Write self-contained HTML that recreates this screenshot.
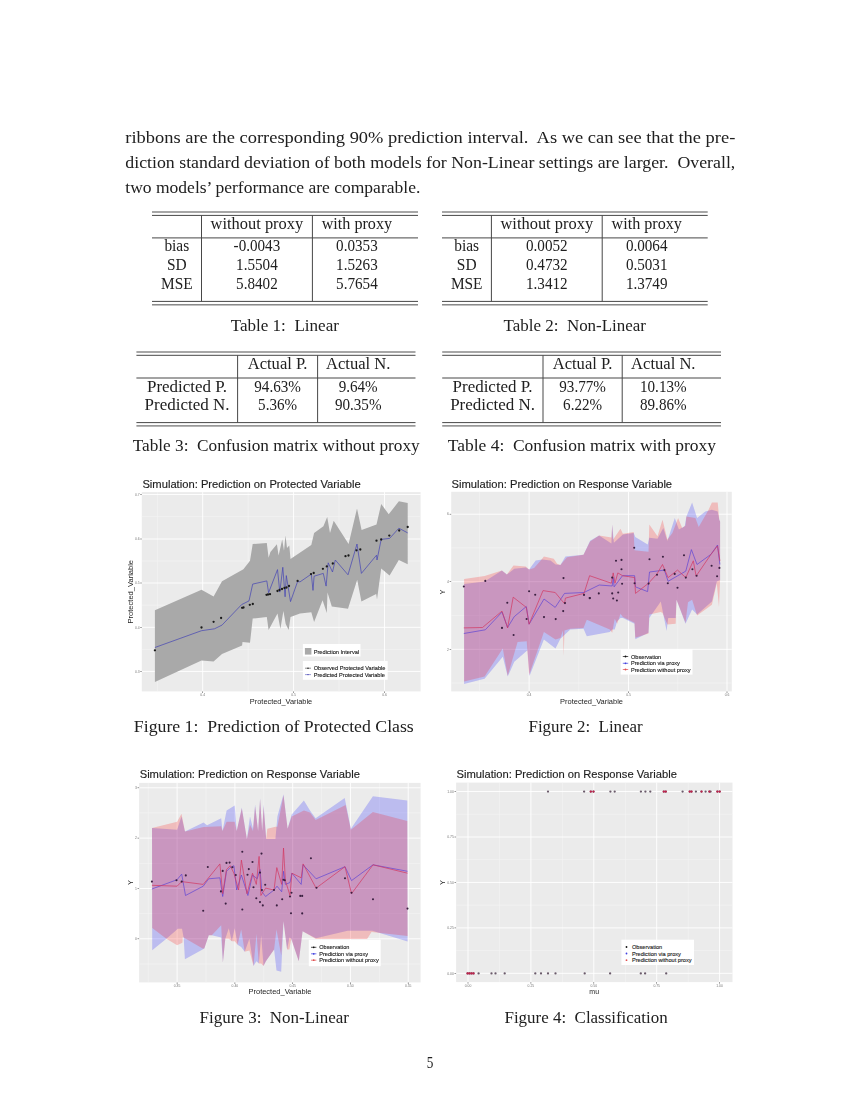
<!DOCTYPE html>
<html><head><meta charset="utf-8"><title>page 5</title>
<style>
html,body{margin:0;padding:0;background:#fff;}
body{width:850px;height:1100px;overflow:hidden;position:relative;}
svg{position:absolute;left:0;top:0;filter:blur(0.3px);}
text{white-space:pre;}
</style></head><body>
<svg width="850" height="1100" viewBox="0 0 850 1100">
<text x="125.3" y="143.2" font-size="16" text-anchor="start" fill="#202020" font-family='"Liberation Serif", serif' textLength="610.0" lengthAdjust="spacingAndGlyphs" >ribbons are the corresponding 90% prediction interval.  As we can see that the pre-</text>
<text x="125.3" y="168.0" font-size="16" text-anchor="start" fill="#202020" font-family='"Liberation Serif", serif' textLength="610.0" lengthAdjust="spacingAndGlyphs" >diction standard deviation of both models for Non-Linear settings are larger.  Overall,</text>
<text x="125.3" y="193.2" font-size="16" text-anchor="start" fill="#202020" font-family='"Liberation Serif", serif' textLength="295.0" lengthAdjust="spacingAndGlyphs" >two models’ performance are comparable.</text>
<rect x="152.0" y="211.35" width="266.0" height="1.3" fill="#777777"/>
<rect x="152.0" y="214.90" width="266.0" height="1.0" fill="#484848"/>
<rect x="152.0" y="237.40" width="266.0" height="1.0" fill="#484848"/>
<rect x="152.0" y="300.90" width="266.0" height="1.0" fill="#484848"/>
<rect x="152.0" y="304.15" width="266.0" height="1.3" fill="#777777"/>
<rect x="201.00" y="215.4" width="1.0" height="86.0" fill="#484848"/>
<rect x="311.90" y="215.4" width="1.0" height="86.0" fill="#484848"/>
<text x="256.9" y="228.5" font-size="16" text-anchor="middle" fill="#202020" font-family='"Liberation Serif", serif' textLength="92.6" lengthAdjust="spacingAndGlyphs" >without proxy</text>
<text x="356.9" y="228.5" font-size="16" text-anchor="middle" fill="#202020" font-family='"Liberation Serif", serif' textLength="70.4" lengthAdjust="spacingAndGlyphs" >with proxy</text>
<text x="176.8" y="251.0" font-size="16" text-anchor="middle" fill="#202020" font-family='"Liberation Serif", serif' textLength="24.8" lengthAdjust="spacingAndGlyphs" >bias</text>
<text x="256.9" y="251.0" font-size="16" text-anchor="middle" fill="#202020" font-family='"Liberation Serif", serif' textLength="46.6" lengthAdjust="spacingAndGlyphs" >-0.0043</text>
<text x="356.9" y="251.0" font-size="16" text-anchor="middle" fill="#202020" font-family='"Liberation Serif", serif' textLength="41.6" lengthAdjust="spacingAndGlyphs" >0.0353</text>
<text x="176.8" y="270.0" font-size="16" text-anchor="middle" fill="#202020" font-family='"Liberation Serif", serif' textLength="19.7" lengthAdjust="spacingAndGlyphs" >SD</text>
<text x="256.9" y="270.0" font-size="16" text-anchor="middle" fill="#202020" font-family='"Liberation Serif", serif' textLength="41.6" lengthAdjust="spacingAndGlyphs" >1.5504</text>
<text x="356.9" y="270.0" font-size="16" text-anchor="middle" fill="#202020" font-family='"Liberation Serif", serif' textLength="41.6" lengthAdjust="spacingAndGlyphs" >1.5263</text>
<text x="176.8" y="288.9" font-size="16" text-anchor="middle" fill="#202020" font-family='"Liberation Serif", serif' textLength="31.6" lengthAdjust="spacingAndGlyphs" >MSE</text>
<text x="256.9" y="288.9" font-size="16" text-anchor="middle" fill="#202020" font-family='"Liberation Serif", serif' textLength="41.6" lengthAdjust="spacingAndGlyphs" >5.8402</text>
<text x="356.9" y="288.9" font-size="16" text-anchor="middle" fill="#202020" font-family='"Liberation Serif", serif' textLength="41.6" lengthAdjust="spacingAndGlyphs" >5.7654</text>
<rect x="442.0" y="211.35" width="265.7" height="1.3" fill="#777777"/>
<rect x="442.0" y="214.90" width="265.7" height="1.0" fill="#484848"/>
<rect x="442.0" y="237.40" width="265.7" height="1.0" fill="#484848"/>
<rect x="442.0" y="300.90" width="265.7" height="1.0" fill="#484848"/>
<rect x="442.0" y="304.15" width="265.7" height="1.3" fill="#777777"/>
<rect x="490.90" y="215.4" width="1.0" height="86.0" fill="#484848"/>
<rect x="601.70" y="215.4" width="1.0" height="86.0" fill="#484848"/>
<text x="546.8" y="228.5" font-size="16" text-anchor="middle" fill="#202020" font-family='"Liberation Serif", serif' textLength="92.6" lengthAdjust="spacingAndGlyphs" >without proxy</text>
<text x="646.7" y="228.5" font-size="16" text-anchor="middle" fill="#202020" font-family='"Liberation Serif", serif' textLength="70.4" lengthAdjust="spacingAndGlyphs" >with proxy</text>
<text x="466.7" y="251.0" font-size="16" text-anchor="middle" fill="#202020" font-family='"Liberation Serif", serif' textLength="24.8" lengthAdjust="spacingAndGlyphs" >bias</text>
<text x="546.8" y="251.0" font-size="16" text-anchor="middle" fill="#202020" font-family='"Liberation Serif", serif' textLength="41.6" lengthAdjust="spacingAndGlyphs" >0.0052</text>
<text x="646.7" y="251.0" font-size="16" text-anchor="middle" fill="#202020" font-family='"Liberation Serif", serif' textLength="41.6" lengthAdjust="spacingAndGlyphs" >0.0064</text>
<text x="466.7" y="270.0" font-size="16" text-anchor="middle" fill="#202020" font-family='"Liberation Serif", serif' textLength="19.7" lengthAdjust="spacingAndGlyphs" >SD</text>
<text x="546.8" y="270.0" font-size="16" text-anchor="middle" fill="#202020" font-family='"Liberation Serif", serif' textLength="41.6" lengthAdjust="spacingAndGlyphs" >0.4732</text>
<text x="646.7" y="270.0" font-size="16" text-anchor="middle" fill="#202020" font-family='"Liberation Serif", serif' textLength="41.6" lengthAdjust="spacingAndGlyphs" >0.5031</text>
<text x="466.7" y="288.9" font-size="16" text-anchor="middle" fill="#202020" font-family='"Liberation Serif", serif' textLength="31.6" lengthAdjust="spacingAndGlyphs" >MSE</text>
<text x="546.8" y="288.9" font-size="16" text-anchor="middle" fill="#202020" font-family='"Liberation Serif", serif' textLength="41.6" lengthAdjust="spacingAndGlyphs" >1.3412</text>
<text x="646.7" y="288.9" font-size="16" text-anchor="middle" fill="#202020" font-family='"Liberation Serif", serif' textLength="41.6" lengthAdjust="spacingAndGlyphs" >1.3749</text>
<text x="284.8" y="330.6" font-size="16" text-anchor="middle" fill="#202020" font-family='"Liberation Serif", serif' textLength="108.2" lengthAdjust="spacingAndGlyphs" >Table 1:  Linear</text>
<text x="574.8" y="330.6" font-size="16" text-anchor="middle" fill="#202020" font-family='"Liberation Serif", serif' textLength="142.4" lengthAdjust="spacingAndGlyphs" >Table 2:  Non-Linear</text>
<rect x="136.4" y="351.35" width="279.1" height="1.3" fill="#777777"/>
<rect x="136.4" y="354.80" width="279.1" height="1.0" fill="#484848"/>
<rect x="136.4" y="377.50" width="279.1" height="1.0" fill="#484848"/>
<rect x="136.4" y="422.10" width="279.1" height="1.0" fill="#484848"/>
<rect x="136.4" y="425.25" width="279.1" height="1.3" fill="#777777"/>
<rect x="237.10" y="355.3" width="1.0" height="67.3" fill="#484848"/>
<rect x="317.10" y="355.3" width="1.0" height="67.3" fill="#484848"/>
<text x="277.6" y="369.0" font-size="16" text-anchor="middle" fill="#202020" font-family='"Liberation Serif", serif' textLength="59.8" lengthAdjust="spacingAndGlyphs" >Actual P.</text>
<text x="358.2" y="369.0" font-size="16" text-anchor="middle" fill="#202020" font-family='"Liberation Serif", serif' textLength="64.4" lengthAdjust="spacingAndGlyphs" >Actual N.</text>
<text x="187.0" y="391.6" font-size="16" text-anchor="middle" fill="#202020" font-family='"Liberation Serif", serif' textLength="80.0" lengthAdjust="spacingAndGlyphs" >Predicted P.</text>
<text x="277.6" y="391.6" font-size="16" text-anchor="middle" fill="#202020" font-family='"Liberation Serif", serif' textLength="46.6" lengthAdjust="spacingAndGlyphs" >94.63%</text>
<text x="358.2" y="391.6" font-size="16" text-anchor="middle" fill="#202020" font-family='"Liberation Serif", serif' textLength="39.0" lengthAdjust="spacingAndGlyphs" >9.64%</text>
<text x="187.0" y="410.0" font-size="16" text-anchor="middle" fill="#202020" font-family='"Liberation Serif", serif' textLength="84.8" lengthAdjust="spacingAndGlyphs" >Predicted N.</text>
<text x="277.6" y="410.0" font-size="16" text-anchor="middle" fill="#202020" font-family='"Liberation Serif", serif' textLength="39.0" lengthAdjust="spacingAndGlyphs" >5.36%</text>
<text x="358.2" y="410.0" font-size="16" text-anchor="middle" fill="#202020" font-family='"Liberation Serif", serif' textLength="46.6" lengthAdjust="spacingAndGlyphs" >90.35%</text>
<rect x="442.2" y="351.35" width="278.8" height="1.3" fill="#777777"/>
<rect x="442.2" y="354.80" width="278.8" height="1.0" fill="#484848"/>
<rect x="442.2" y="377.50" width="278.8" height="1.0" fill="#484848"/>
<rect x="442.2" y="422.10" width="278.8" height="1.0" fill="#484848"/>
<rect x="442.2" y="425.25" width="278.8" height="1.3" fill="#777777"/>
<rect x="542.50" y="355.3" width="1.0" height="67.3" fill="#484848"/>
<rect x="621.70" y="355.3" width="1.0" height="67.3" fill="#484848"/>
<text x="582.6" y="369.0" font-size="16" text-anchor="middle" fill="#202020" font-family='"Liberation Serif", serif' textLength="59.8" lengthAdjust="spacingAndGlyphs" >Actual P.</text>
<text x="663.3" y="369.0" font-size="16" text-anchor="middle" fill="#202020" font-family='"Liberation Serif", serif' textLength="64.4" lengthAdjust="spacingAndGlyphs" >Actual N.</text>
<text x="492.6" y="391.6" font-size="16" text-anchor="middle" fill="#202020" font-family='"Liberation Serif", serif' textLength="80.0" lengthAdjust="spacingAndGlyphs" >Predicted P.</text>
<text x="582.6" y="391.6" font-size="16" text-anchor="middle" fill="#202020" font-family='"Liberation Serif", serif' textLength="46.6" lengthAdjust="spacingAndGlyphs" >93.77%</text>
<text x="663.3" y="391.6" font-size="16" text-anchor="middle" fill="#202020" font-family='"Liberation Serif", serif' textLength="46.6" lengthAdjust="spacingAndGlyphs" >10.13%</text>
<text x="492.6" y="410.0" font-size="16" text-anchor="middle" fill="#202020" font-family='"Liberation Serif", serif' textLength="84.8" lengthAdjust="spacingAndGlyphs" >Predicted N.</text>
<text x="582.6" y="410.0" font-size="16" text-anchor="middle" fill="#202020" font-family='"Liberation Serif", serif' textLength="39.0" lengthAdjust="spacingAndGlyphs" >6.22%</text>
<text x="663.3" y="410.0" font-size="16" text-anchor="middle" fill="#202020" font-family='"Liberation Serif", serif' textLength="46.6" lengthAdjust="spacingAndGlyphs" >89.86%</text>
<text x="276.2" y="451.2" font-size="16" text-anchor="middle" fill="#202020" font-family='"Liberation Serif", serif' textLength="286.9" lengthAdjust="spacingAndGlyphs" >Table 3:  Confusion matrix without proxy</text>
<text x="581.9" y="451.2" font-size="16" text-anchor="middle" fill="#202020" font-family='"Liberation Serif", serif' textLength="268.2" lengthAdjust="spacingAndGlyphs" >Table 4:  Confusion matrix with proxy</text>
<text x="273.8" y="732.3" font-size="16" text-anchor="middle" fill="#202020" font-family='"Liberation Serif", serif' textLength="279.9" lengthAdjust="spacingAndGlyphs" >Figure 1:  Prediction of Protected Class</text>
<text x="585.6" y="732.0" font-size="16" text-anchor="middle" fill="#202020" font-family='"Liberation Serif", serif' textLength="114.2" lengthAdjust="spacingAndGlyphs" >Figure 2:  Linear</text>
<text x="274.3" y="1023.0" font-size="16" text-anchor="middle" fill="#202020" font-family='"Liberation Serif", serif' textLength="149.4" lengthAdjust="spacingAndGlyphs" >Figure 3:  Non-Linear</text>
<text x="586.1" y="1022.8" font-size="16" text-anchor="middle" fill="#202020" font-family='"Liberation Serif", serif' textLength="163.2" lengthAdjust="spacingAndGlyphs" >Figure 4:  Classification</text>
<text x="430.0" y="1067.8" font-size="16" text-anchor="middle" fill="#202020" font-family='"Liberation Serif", serif' textLength="6.6" lengthAdjust="spacingAndGlyphs" >5</text>
<rect x="141.8" y="492.1" width="278.8" height="199.3" fill="#EBEBEB"/>
<rect x="157.40" y="492.1" width="0.6" height="199.3" fill="#F4F4F4"/>
<rect x="247.80" y="492.1" width="0.6" height="199.3" fill="#F4F4F4"/>
<rect x="338.70" y="492.1" width="0.6" height="199.3" fill="#F4F4F4"/>
<rect x="141.8" y="516.40" width="278.8" height="0.6" fill="#F4F4F4"/>
<rect x="141.8" y="560.70" width="278.8" height="0.6" fill="#F4F4F4"/>
<rect x="141.8" y="604.80" width="278.8" height="0.6" fill="#F4F4F4"/>
<rect x="141.8" y="649.00" width="278.8" height="0.6" fill="#F4F4F4"/>
<rect x="202.25" y="492.1" width="0.9" height="199.3" fill="#FFFFFF"/>
<rect x="293.15" y="492.1" width="0.9" height="199.3" fill="#FFFFFF"/>
<rect x="384.05" y="492.1" width="0.9" height="199.3" fill="#FFFFFF"/>
<rect x="141.8" y="494.05" width="278.8" height="0.9" fill="#FFFFFF"/>
<rect x="141.8" y="538.55" width="278.8" height="0.9" fill="#FFFFFF"/>
<rect x="141.8" y="582.55" width="278.8" height="0.9" fill="#FFFFFF"/>
<rect x="141.8" y="626.85" width="278.8" height="0.9" fill="#FFFFFF"/>
<rect x="141.8" y="670.95" width="278.8" height="0.9" fill="#FFFFFF"/>
<polygon points="154.9,610.2 201.5,589.7 213.6,596.6 222.0,581.3 243.4,569.2 250.0,560.8 252.7,544.0 266.8,543.0 268.6,557.8 270.4,551.9 276.9,544.2 278.6,555.5 282.2,539.5 284.0,550.7 285.5,535.4 287.0,548.0 289.3,545.4 290.5,559.0 311.3,545.0 314.1,532.9 323.4,526.3 327.2,517.0 330.0,532.9 333.7,520.7 348.6,544.0 357.0,508.6 361.6,530.1 376.5,524.5 381.2,504.0 388.7,514.2 398.9,501.2 407.7,503.0 407.7,564.2 398.8,560.0 389.6,575.5 381.2,568.5 377.0,599.5 376.2,593.9 361.4,601.6 357.2,579.8 348.0,608.7 331.8,606.6 327.5,592.5 326.8,613.0 322.6,600.2 314.1,622.1 311.3,612.2 300.0,613.6 290.5,616.9 288.7,630.0 285.7,624.0 283.4,611.0 280.4,628.7 277.5,613.4 268.6,630.0 266.8,616.9 252.7,618.6 250.0,642.8 242.5,641.9 242.1,645.6 222.0,654.0 213.6,661.4 201.5,660.5 154.9,682.0" fill="#A9A9A9" fill-opacity="1.0"/>
<polyline points="154.9,647.5 201.5,630.7 214.5,628.8 222.0,625.1 241.6,604.6 249.0,600.9 252.7,584.1 266.8,580.9 268.6,592.7 277.5,569.6 279.8,592.1 282.8,567.3 285.1,596.8 286.3,575.6 290.5,601.6 297.6,581.5 300.0,581.9 311.3,574.1 313.0,590.4 314.1,576.2 323.3,573.4 326.1,586.1 328.2,562.8 332.5,572.0 335.3,560.0 348.0,574.8 357.0,544.0 361.4,573.4 376.5,555.2 377.0,560.0 381.2,539.4 389.6,538.4 398.9,528.2 407.7,532.9" fill="none" stroke="#4444b4" stroke-width="0.7" stroke-opacity="1.0" stroke-linejoin="round"/>
<circle cx="154.9" cy="650.3" r="1.15" fill="#1a1a1a"/>
<circle cx="201.5" cy="627.5" r="1.15" fill="#1a1a1a"/>
<circle cx="213.6" cy="621.8" r="1.15" fill="#1a1a1a"/>
<circle cx="221.1" cy="618.0" r="1.15" fill="#1a1a1a"/>
<circle cx="242.1" cy="607.8" r="1.15" fill="#1a1a1a"/>
<circle cx="243.5" cy="607.5" r="1.15" fill="#1a1a1a"/>
<circle cx="249.8" cy="604.8" r="1.15" fill="#1a1a1a"/>
<circle cx="252.8" cy="604.0" r="1.15" fill="#1a1a1a"/>
<circle cx="266.5" cy="594.8" r="1.15" fill="#1a1a1a"/>
<circle cx="268.0" cy="594.5" r="1.15" fill="#1a1a1a"/>
<circle cx="270.0" cy="594.2" r="1.15" fill="#1a1a1a"/>
<circle cx="277.5" cy="591.0" r="1.15" fill="#1a1a1a"/>
<circle cx="279.5" cy="590.0" r="1.15" fill="#1a1a1a"/>
<circle cx="282.0" cy="589.0" r="1.15" fill="#1a1a1a"/>
<circle cx="284.5" cy="588.0" r="1.15" fill="#1a1a1a"/>
<circle cx="286.5" cy="587.5" r="1.15" fill="#1a1a1a"/>
<circle cx="289.0" cy="586.0" r="1.15" fill="#1a1a1a"/>
<circle cx="297.6" cy="580.9" r="1.15" fill="#1a1a1a"/>
<circle cx="311.0" cy="574.1" r="1.15" fill="#1a1a1a"/>
<circle cx="313.7" cy="573.0" r="1.15" fill="#1a1a1a"/>
<circle cx="322.9" cy="568.8" r="1.15" fill="#1a1a1a"/>
<circle cx="326.8" cy="566.4" r="1.15" fill="#1a1a1a"/>
<circle cx="332.8" cy="563.5" r="1.15" fill="#1a1a1a"/>
<circle cx="345.5" cy="556.2" r="1.15" fill="#1a1a1a"/>
<circle cx="348.5" cy="555.5" r="1.15" fill="#1a1a1a"/>
<circle cx="356.5" cy="550.3" r="1.15" fill="#1a1a1a"/>
<circle cx="360.3" cy="549.5" r="1.15" fill="#1a1a1a"/>
<circle cx="376.5" cy="540.7" r="1.15" fill="#1a1a1a"/>
<circle cx="381.2" cy="539.5" r="1.15" fill="#1a1a1a"/>
<circle cx="389.3" cy="535.6" r="1.15" fill="#1a1a1a"/>
<circle cx="399.2" cy="530.5" r="1.15" fill="#1a1a1a"/>
<circle cx="407.7" cy="527.0" r="1.15" fill="#1a1a1a"/>
<text x="142.4" y="487.8" font-size="10.9" text-anchor="start" fill="#1e1e1e" font-family='"Liberation Sans", sans-serif' textLength="218.3" lengthAdjust="spacingAndGlyphs" stroke="#1e1e1e" stroke-width="0.15">Simulation: Prediction on Protected Variable</text>
<rect x="202.40" y="691.4" width="0.6" height="1.6" fill="#555"/>
<text x="202.7" y="696.2" font-size="3.4" text-anchor="middle" fill="#777" font-family='"Liberation Sans", sans-serif' >0.4</text>
<rect x="293.30" y="691.4" width="0.6" height="1.6" fill="#555"/>
<text x="293.6" y="696.2" font-size="3.4" text-anchor="middle" fill="#777" font-family='"Liberation Sans", sans-serif' >0.5</text>
<rect x="384.20" y="691.4" width="0.6" height="1.6" fill="#555"/>
<text x="384.5" y="696.2" font-size="3.4" text-anchor="middle" fill="#777" font-family='"Liberation Sans", sans-serif' >0.6</text>
<rect x="140.20" y="494.20" width="1.6" height="0.6" fill="#555"/>
<text x="139.6" y="495.7" font-size="3.4" text-anchor="end" fill="#777" font-family='"Liberation Sans", sans-serif' >0.7</text>
<rect x="140.20" y="538.70" width="1.6" height="0.6" fill="#555"/>
<text x="139.6" y="540.2" font-size="3.4" text-anchor="end" fill="#777" font-family='"Liberation Sans", sans-serif' >0.6</text>
<rect x="140.20" y="582.70" width="1.6" height="0.6" fill="#555"/>
<text x="139.6" y="584.2" font-size="3.4" text-anchor="end" fill="#777" font-family='"Liberation Sans", sans-serif' >0.5</text>
<rect x="140.20" y="627.00" width="1.6" height="0.6" fill="#555"/>
<text x="139.6" y="628.5" font-size="3.4" text-anchor="end" fill="#777" font-family='"Liberation Sans", sans-serif' >0.4</text>
<rect x="140.20" y="671.10" width="1.6" height="0.6" fill="#555"/>
<text x="139.6" y="672.6" font-size="3.4" text-anchor="end" fill="#777" font-family='"Liberation Sans", sans-serif' >0.3</text>
<text x="281.0" y="703.6" font-size="7.4" text-anchor="middle" fill="#1e1e1e" font-family='"Liberation Sans", sans-serif' textLength="62.3" lengthAdjust="spacingAndGlyphs" >Protected_Variable</text>
<text x="133.5" y="591.7" font-size="7.4" text-anchor="middle" fill="#1e1e1e" font-family='"Liberation Sans", sans-serif' textLength="63.5" lengthAdjust="spacingAndGlyphs" transform="rotate(-90 133.5 591.7)">Protected_Variable</text>
<rect x="302.9" y="644" width="57.6" height="12.5" fill="#fff"/>
<rect x="304.9" y="648" width="6.5" height="6.6" fill="#A9A9A9"/>
<text x="313.7" y="653.6" font-size="5.6" text-anchor="start" fill="#1a1a1a" font-family='"Liberation Sans", sans-serif' textLength="45.5" lengthAdjust="spacingAndGlyphs" stroke="#1a1a1a" stroke-width="0.12">Prediction Interval</text>
<rect x="302.9" y="661" width="84.8" height="18.8" fill="#fff"/>
<polyline points="305.0,668.2 311.0,668.2" fill="none" stroke="#222" stroke-width="0.5" stroke-opacity="1.0" stroke-linejoin="round"/>
<circle cx="308.0" cy="668.2" r="0.7" fill="#111"/>
<polyline points="305.0,674.6 311.0,674.6" fill="none" stroke="#3b3bb0" stroke-width="0.5" stroke-opacity="1.0" stroke-linejoin="round"/>
<circle cx="308.0" cy="674.6" r="0.7" fill="#3b3bb0"/>
<text x="313.7" y="670.2" font-size="5.6" text-anchor="start" fill="#1a1a1a" font-family='"Liberation Sans", sans-serif' textLength="71.8" lengthAdjust="spacingAndGlyphs" stroke="#1a1a1a" stroke-width="0.12">Observed Protected Variable</text>
<text x="313.7" y="676.6" font-size="5.6" text-anchor="start" fill="#1a1a1a" font-family='"Liberation Sans", sans-serif' textLength="71.2" lengthAdjust="spacingAndGlyphs" stroke="#1a1a1a" stroke-width="0.12">Predicted Protected Variable</text>
<rect x="451.2" y="491.8" width="280.6" height="199.6" fill="#EBEBEB"/>
<rect x="479.10" y="491.8" width="0.6" height="199.6" fill="#F4F4F4"/>
<rect x="578.50" y="491.8" width="0.6" height="199.6" fill="#F4F4F4"/>
<rect x="677.50" y="491.8" width="0.6" height="199.6" fill="#F4F4F4"/>
<rect x="451.2" y="547.60" width="280.6" height="0.6" fill="#F4F4F4"/>
<rect x="451.2" y="615.20" width="280.6" height="0.6" fill="#F4F4F4"/>
<rect x="451.2" y="682.70" width="280.6" height="0.6" fill="#F4F4F4"/>
<rect x="528.65" y="491.8" width="0.9" height="199.6" fill="#FFFFFF"/>
<rect x="628.05" y="491.8" width="0.9" height="199.6" fill="#FFFFFF"/>
<rect x="726.55" y="491.8" width="0.9" height="199.6" fill="#FFFFFF"/>
<rect x="451.2" y="513.75" width="280.6" height="0.9" fill="#FFFFFF"/>
<rect x="451.2" y="581.25" width="280.6" height="0.9" fill="#FFFFFF"/>
<rect x="451.2" y="648.85" width="280.6" height="0.9" fill="#FFFFFF"/>
<polygon points="464.1,584.0 484.6,581.4 501.9,570.4 506.9,574.5 514.3,568.7 525.8,567.6 529.1,569.5 535.7,560.5 542.3,559.6 550.5,560.5 555.5,564.6 560.4,564.9 565.4,556.4 583.5,554.7 590.1,540.7 599.1,535.4 611.4,543.6 612.2,524.6 613.9,542.8 622.9,534.5 633.7,532.9 635.3,537.0 647.7,544.4 649.3,537.8 657.5,538.7 663.3,527.9 667.4,541.1 674.8,518.1 678.9,529.6 684.7,526.3 686.4,516.4 692.1,502.4 697.1,518.1 705.3,511.5 711.9,509.8 717.7,511.5 719.3,519.7 720.1,521.4 720.1,580.0 716.8,581.6 711.9,601.4 697.1,614.6 692.1,609.6 685.5,623.7 676.5,599.8 675.7,617.9 668.2,617.9 666.6,631.1 660.8,601.4 649.3,617.9 648.5,632.7 635.3,639.3 634.5,623.7 622.9,617.9 620.5,617.9 617.2,621.2 614.7,629.4 612.2,629.4 609.8,631.9 586.8,636.2 583.5,628.8 570.3,629.6 560.4,638.7 555.5,648.6 543.9,639.5 529.5,676.1 527.5,650.2 514.3,661.8 507.7,676.6 502.8,656.8 484.6,678.7 464.1,684.0" fill="#0000FF" fill-opacity="0.2"/>
<polygon points="464.1,579.1 484.6,576.1 501.9,570.4 506.9,574.5 513.5,565.4 525.8,566.6 529.1,569.5 534.1,567.9 540.7,560.5 543.9,556.4 553.8,558.8 557.1,563.8 560.4,564.9 567.0,557.2 583.5,554.7 590.1,541.5 599.1,535.4 611.4,537.5 612.2,524.6 613.1,539.5 620.5,528.8 622.9,533.7 633.7,532.1 634.5,550.2 648.5,551.8 649.3,524.6 657.5,536.2 662.5,519.7 667.4,539.5 672.4,532.9 678.1,518.1 682.2,527.9 685.5,525.5 686.4,516.4 695.4,518.1 698.7,527.1 708.6,509.8 711.9,502.4 717.7,502.4 719.3,519.7 720.1,521.4 720.1,580.0 719.0,607.2 716.8,583.3 711.9,604.7 697.1,615.4 692.1,599.8 688.0,602.2 685.5,622.8 676.5,599.8 675.7,623.7 667.4,624.5 662.5,612.9 660.8,612.1 649.3,614.6 648.5,633.5 635.3,637.7 634.5,622.8 622.9,617.1 620.5,613.8 617.2,623.7 614.7,618.7 612.2,632.7 609.8,629.4 586.8,619.8 583.5,628.0 570.3,628.8 564.5,630.5 563.7,656.0 562.9,630.5 560.4,637.9 555.5,639.5 543.9,632.1 529.1,674.9 526.7,641.2 517.6,642.0 507.7,675.8 502.8,648.6 484.6,676.6 464.1,681.5" fill="#FF0000" fill-opacity="0.2"/>
<polyline points="463.8,633.5 485.3,629.8 502.0,612.1 507.6,627.5 514.2,616.7 526.3,606.5 529.1,624.2 544.0,599.0 555.2,607.4 564.5,593.4 584.0,592.5 599.2,585.0 612.2,586.0 613.2,577.6 614.1,586.9 622.5,575.7 634.6,575.7 635.5,586.9 647.6,591.6 649.5,572.0 664.4,570.1 668.1,581.3 685.8,571.1 691.4,549.6 697.0,564.5 711.0,554.3 717.5,545.0 719.9,564.5" fill="none" stroke="#5f45d4" stroke-width="0.7" stroke-opacity="1.0" stroke-linejoin="round"/>
<polyline points="463.8,627.9 482.5,627.5 502.0,611.1 507.6,627.9 513.2,597.2 526.3,607.4 529.1,624.2 543.0,590.6 555.2,592.5 564.5,603.7 565.4,598.1 584.0,593.4 589.6,575.7 611.3,583.2 613.2,572.9 615.0,583.2 617.8,572.9 622.5,575.7 634.6,577.6 635.5,593.4 648.6,583.2 657.0,573.9 662.5,564.5 668.1,577.6 677.5,570.1 685.8,577.6 693.3,560.8 696.1,576.1 711.0,554.3 717.5,545.9 719.9,560.8" fill="none" stroke="#d23660" stroke-width="0.7" stroke-opacity="1.0" stroke-linejoin="round"/>
<circle cx="463.8" cy="586.5" r="1.05" fill="#3a2040"/>
<circle cx="485.3" cy="580.9" r="1.05" fill="#3a2040"/>
<circle cx="507.3" cy="602.7" r="1.05" fill="#3a2040"/>
<circle cx="502.0" cy="627.9" r="1.05" fill="#3a2040"/>
<circle cx="513.6" cy="635.0" r="1.05" fill="#3a2040"/>
<circle cx="526.6" cy="619.0" r="1.05" fill="#3a2040"/>
<circle cx="529.1" cy="591.2" r="1.05" fill="#3a2040"/>
<circle cx="535.2" cy="594.7" r="1.05" fill="#3a2040"/>
<circle cx="544.0" cy="617.1" r="1.05" fill="#3a2040"/>
<circle cx="555.7" cy="619.1" r="1.05" fill="#3a2040"/>
<circle cx="563.2" cy="611.1" r="1.05" fill="#3a2040"/>
<circle cx="563.5" cy="578.1" r="1.05" fill="#3a2040"/>
<circle cx="565.0" cy="603.1" r="1.05" fill="#3a2040"/>
<circle cx="584.0" cy="594.9" r="1.05" fill="#3a2040"/>
<circle cx="589.6" cy="598.1" r="1.05" fill="#3a2040"/>
<circle cx="589.9" cy="598.1" r="1.05" fill="#3a2040"/>
<circle cx="598.8" cy="593.4" r="1.05" fill="#3a2040"/>
<circle cx="612.2" cy="577.6" r="1.05" fill="#3a2040"/>
<circle cx="612.2" cy="593.4" r="1.05" fill="#3a2040"/>
<circle cx="613.2" cy="598.5" r="1.05" fill="#3a2040"/>
<circle cx="616.0" cy="560.8" r="1.05" fill="#3a2040"/>
<circle cx="616.9" cy="600.5" r="1.05" fill="#3a2040"/>
<circle cx="618.2" cy="592.5" r="1.05" fill="#3a2040"/>
<circle cx="621.5" cy="559.9" r="1.05" fill="#3a2040"/>
<circle cx="621.5" cy="569.2" r="1.05" fill="#3a2040"/>
<circle cx="622.1" cy="583.7" r="1.05" fill="#3a2040"/>
<circle cx="634.2" cy="547.8" r="1.05" fill="#3a2040"/>
<circle cx="634.6" cy="583.2" r="1.05" fill="#3a2040"/>
<circle cx="648.6" cy="583.6" r="1.05" fill="#3a2040"/>
<circle cx="649.5" cy="559.3" r="1.05" fill="#3a2040"/>
<circle cx="657.0" cy="574.8" r="1.05" fill="#3a2040"/>
<circle cx="662.9" cy="556.7" r="1.05" fill="#3a2040"/>
<circle cx="664.4" cy="570.1" r="1.05" fill="#3a2040"/>
<circle cx="667.8" cy="583.2" r="1.05" fill="#3a2040"/>
<circle cx="674.7" cy="573.9" r="1.05" fill="#3a2040"/>
<circle cx="677.5" cy="587.8" r="1.05" fill="#3a2040"/>
<circle cx="684.0" cy="555.2" r="1.05" fill="#3a2040"/>
<circle cx="685.8" cy="577.6" r="1.05" fill="#3a2040"/>
<circle cx="692.4" cy="569.2" r="1.05" fill="#3a2040"/>
<circle cx="696.6" cy="575.7" r="1.05" fill="#3a2040"/>
<circle cx="711.6" cy="565.8" r="1.05" fill="#3a2040"/>
<circle cx="717.1" cy="576.3" r="1.05" fill="#3a2040"/>
<circle cx="719.4" cy="567.9" r="1.05" fill="#3a2040"/>
<text x="451.5" y="487.8" font-size="10.9" text-anchor="start" fill="#1e1e1e" font-family='"Liberation Sans", sans-serif' textLength="220.6" lengthAdjust="spacingAndGlyphs" stroke="#1e1e1e" stroke-width="0.15">Simulation: Prediction on Response Variable</text>
<rect x="528.80" y="691.4" width="0.6" height="1.6" fill="#555"/>
<text x="529.1" y="696.2" font-size="3.4" text-anchor="middle" fill="#777" font-family='"Liberation Sans", sans-serif' >0.4</text>
<rect x="628.20" y="691.4" width="0.6" height="1.6" fill="#555"/>
<text x="628.5" y="696.2" font-size="3.4" text-anchor="middle" fill="#777" font-family='"Liberation Sans", sans-serif' >0.5</text>
<rect x="726.70" y="691.4" width="0.6" height="1.6" fill="#555"/>
<text x="727.0" y="696.2" font-size="3.4" text-anchor="middle" fill="#777" font-family='"Liberation Sans", sans-serif' >0.6</text>
<rect x="449.60" y="513.90" width="1.6" height="0.6" fill="#555"/>
<text x="449.0" y="515.4" font-size="3.4" text-anchor="end" fill="#777" font-family='"Liberation Sans", sans-serif' >6</text>
<rect x="449.60" y="581.40" width="1.6" height="0.6" fill="#555"/>
<text x="449.0" y="582.9" font-size="3.4" text-anchor="end" fill="#777" font-family='"Liberation Sans", sans-serif' >4</text>
<rect x="449.60" y="649.00" width="1.6" height="0.6" fill="#555"/>
<text x="449.0" y="650.5" font-size="3.4" text-anchor="end" fill="#777" font-family='"Liberation Sans", sans-serif' >2</text>
<text x="591.5" y="703.6" font-size="7.4" text-anchor="middle" fill="#1e1e1e" font-family='"Liberation Sans", sans-serif' textLength="62.9" lengthAdjust="spacingAndGlyphs" >Protected_Variable</text>
<text x="445.0" y="592.0" font-size="7.4" text-anchor="middle" fill="#1e1e1e" font-family='"Liberation Sans", sans-serif' transform="rotate(-90 445 592)">Y</text>
<rect x="620.7" y="649.2" width="71.8" height="25.4" fill="#fff"/>
<polyline points="622.8,656.5 628.2,656.5" fill="none" stroke="#111" stroke-width="0.7" stroke-opacity="1.0" stroke-linejoin="round"/>
<circle cx="625.5" cy="656.5" r="0.9" fill="#111"/>
<text x="631.0" y="658.5" font-size="5.6" text-anchor="start" fill="#1a1a1a" font-family='"Liberation Sans", sans-serif' textLength="30.2" lengthAdjust="spacingAndGlyphs" stroke="#1a1a1a" stroke-width="0.12">Observation</text>
<polyline points="622.8,663.3 628.2,663.3" fill="none" stroke="#4040e0" stroke-width="0.7" stroke-opacity="1.0" stroke-linejoin="round"/>
<circle cx="625.5" cy="663.3" r="0.9" fill="#4040e0"/>
<text x="631.0" y="665.3" font-size="5.6" text-anchor="start" fill="#1a1a1a" font-family='"Liberation Sans", sans-serif' textLength="48.9" lengthAdjust="spacingAndGlyphs" stroke="#1a1a1a" stroke-width="0.12">Prediction via proxy</text>
<polyline points="622.8,669.5 628.2,669.5" fill="none" stroke="#e05050" stroke-width="0.7" stroke-opacity="1.0" stroke-linejoin="round"/>
<circle cx="625.5" cy="669.5" r="0.9" fill="#e05050"/>
<text x="631.0" y="671.5" font-size="5.6" text-anchor="start" fill="#1a1a1a" font-family='"Liberation Sans", sans-serif' textLength="59.5" lengthAdjust="spacingAndGlyphs" stroke="#1a1a1a" stroke-width="0.12">Prediction without proxy</text>
<rect x="139.1" y="782.9" width="281.5" height="199.5" fill="#EBEBEB"/>
<rect x="147.90" y="782.9" width="0.6" height="199.5" fill="#F4F4F4"/>
<rect x="205.70" y="782.9" width="0.6" height="199.5" fill="#F4F4F4"/>
<rect x="263.50" y="782.9" width="0.6" height="199.5" fill="#F4F4F4"/>
<rect x="321.20" y="782.9" width="0.6" height="199.5" fill="#F4F4F4"/>
<rect x="379.00" y="782.9" width="0.6" height="199.5" fill="#F4F4F4"/>
<rect x="139.1" y="812.60" width="281.5" height="0.6" fill="#F4F4F4"/>
<rect x="139.1" y="863.00" width="281.5" height="0.6" fill="#F4F4F4"/>
<rect x="139.1" y="913.30" width="281.5" height="0.6" fill="#F4F4F4"/>
<rect x="139.1" y="963.70" width="281.5" height="0.6" fill="#F4F4F4"/>
<rect x="176.65" y="782.9" width="0.9" height="199.5" fill="#FFFFFF"/>
<rect x="234.45" y="782.9" width="0.9" height="199.5" fill="#FFFFFF"/>
<rect x="292.25" y="782.9" width="0.9" height="199.5" fill="#FFFFFF"/>
<rect x="349.95" y="782.9" width="0.9" height="199.5" fill="#FFFFFF"/>
<rect x="407.75" y="782.9" width="0.9" height="199.5" fill="#FFFFFF"/>
<rect x="139.1" y="787.35" width="281.5" height="0.9" fill="#FFFFFF"/>
<rect x="139.1" y="837.65" width="281.5" height="0.9" fill="#FFFFFF"/>
<rect x="139.1" y="888.05" width="281.5" height="0.9" fill="#FFFFFF"/>
<rect x="139.1" y="938.35" width="281.5" height="0.9" fill="#FFFFFF"/>
<polygon points="152.0,827.9 177.1,829.7 181.5,816.5 185.0,831.5 203.5,822.6 207.1,825.3 221.2,818.2 222.5,830.9 226.6,810.5 234.7,805.4 236.7,830.9 241.8,807.5 246.9,839.0 250.0,816.6 253.0,828.8 255.1,804.4 258.1,830.9 260.1,798.3 262.2,830.9 263.6,804.4 266.2,839.0 267.3,839.0 275.4,839.0 277.4,816.6 283.5,794.2 287.6,828.8 291.7,814.6 303.9,800.4 310.0,810.5 315.6,818.2 344.7,797.9 350.9,828.8 372.9,796.2 407.3,800.6 407.6,941.4 372.3,930.8 347.6,930.8 315.9,938.2 302.6,931.2 298.8,961.2 291.2,938.8 289.4,937.6 287.1,949.4 283.5,921.2 281.2,971.8 276.5,970.6 274.1,949.4 265.9,961.2 263.5,965.9 261.2,935.3 258.8,963.5 256.5,961.2 253.5,965.9 249.4,938.8 244.7,951.8 241.2,947.1 237.6,944.7 234.7,928.2 231.8,941.2 228.8,928.2 225.3,938.8 222.9,962.4 221.2,937.6 211.8,935.3 208.8,935.3 204.3,948.6 202.6,949.4 184.9,959.3 183.7,937.9 182.0,928.8 177.9,928.8 166.4,938.7 152.2,950.2" fill="#0000FF" fill-opacity="0.2"/>
<polygon points="152.0,827.9 177.1,821.8 181.5,813.8 185.0,831.5 203.5,827.1 221.2,826.2 222.5,830.9 226.6,821.7 234.7,821.7 236.7,830.9 241.8,808.5 246.9,839.0 250.0,824.8 253.0,830.9 255.1,806.5 258.1,830.9 260.1,799.3 262.2,830.9 263.6,806.5 266.2,839.0 267.3,828.8 275.4,826.8 277.4,826.8 283.5,795.3 287.6,828.8 291.7,816.6 303.9,810.5 310.0,812.6 315.6,820.0 345.6,805.0 350.9,829.7 372.9,812.1 407.3,820.9 407.6,936.1 371.5,932.1 367.1,939.1 315.9,939.1 302.6,931.2 298.8,961.2 291.2,938.8 289.4,949.4 287.1,949.4 283.5,921.2 281.2,955.3 276.5,929.4 274.1,949.4 265.9,961.2 263.5,965.9 261.2,963.5 258.8,963.5 256.5,934.1 253.5,965.9 249.4,950.6 244.7,951.8 241.2,929.4 237.6,944.7 234.7,941.2 231.8,941.2 228.8,938.8 225.3,938.8 222.9,962.4 221.2,925.3 211.8,935.3 208.8,935.3 204.3,948.6 202.6,948.6 182.8,937.1 182.4,942.8 177.1,945.3 166.4,938.7 152.2,928.0" fill="#FF0000" fill-opacity="0.2"/>
<polyline points="151.9,889.0 177.1,879.7 181.7,874.1 185.5,895.5 203.2,886.2 208.7,878.8 219.9,877.8 222.7,896.5 226.5,871.3 230.2,867.6 233.9,865.7 236.7,890.0 241.4,875.0 247.9,895.5 252.5,875.0 257.2,878.8 260.0,869.5 261.9,891.8 265.6,896.5 274.0,890.0 277.0,886.2 281.7,891.8 283.5,871.3 285.4,884.4 290.0,882.5 291.9,873.2 301.2,884.4 303.1,864.8 316.1,878.8 345.0,866.7 351.5,880.6 373.0,864.8 407.5,871.3" fill="none" stroke="#5f45d4" stroke-width="0.7" stroke-opacity="1.0" stroke-linejoin="round"/>
<polyline points="151.9,885.3 177.1,886.2 181.7,881.6 203.2,884.4 219.9,863.9 222.7,893.7 226.5,869.5 230.2,865.7 233.9,873.2 238.6,890.0 241.4,860.1 247.0,893.7 252.5,873.2 256.3,884.4 259.1,856.4 260.9,895.5 265.6,888.1 274.0,890.0 276.8,867.6 281.7,884.4 283.5,848.0 285.4,880.6 290.0,895.5 291.9,873.2 301.2,877.8 303.1,863.9 316.1,888.1 345.0,866.7 351.5,893.7 373.0,864.8 407.5,873.2" fill="none" stroke="#d23660" stroke-width="0.7" stroke-opacity="1.0" stroke-linejoin="round"/>
<circle cx="151.9" cy="881.6" r="1.05" fill="#3a2040"/>
<circle cx="176.5" cy="880.3" r="1.05" fill="#3a2040"/>
<circle cx="181.7" cy="881.6" r="1.05" fill="#3a2040"/>
<circle cx="185.8" cy="875.4" r="1.05" fill="#3a2040"/>
<circle cx="207.8" cy="867.0" r="1.05" fill="#3a2040"/>
<circle cx="203.2" cy="910.8" r="1.05" fill="#3a2040"/>
<circle cx="220.9" cy="891.4" r="1.05" fill="#3a2040"/>
<circle cx="222.7" cy="870.9" r="1.05" fill="#3a2040"/>
<circle cx="225.7" cy="903.6" r="1.05" fill="#3a2040"/>
<circle cx="226.5" cy="862.9" r="1.05" fill="#3a2040"/>
<circle cx="229.6" cy="862.6" r="1.05" fill="#3a2040"/>
<circle cx="232.4" cy="867.2" r="1.05" fill="#3a2040"/>
<circle cx="235.8" cy="875.0" r="1.05" fill="#3a2040"/>
<circle cx="242.3" cy="851.7" r="1.05" fill="#3a2040"/>
<circle cx="242.3" cy="909.5" r="1.05" fill="#3a2040"/>
<circle cx="248.8" cy="869.1" r="1.05" fill="#3a2040"/>
<circle cx="247.5" cy="874.7" r="1.05" fill="#3a2040"/>
<circle cx="252.5" cy="862.0" r="1.05" fill="#3a2040"/>
<circle cx="253.5" cy="887.2" r="1.05" fill="#3a2040"/>
<circle cx="256.3" cy="898.3" r="1.05" fill="#3a2040"/>
<circle cx="260.0" cy="902.1" r="1.05" fill="#3a2040"/>
<circle cx="260.0" cy="872.6" r="1.05" fill="#3a2040"/>
<circle cx="261.5" cy="853.6" r="1.05" fill="#3a2040"/>
<circle cx="261.9" cy="890.0" r="1.05" fill="#3a2040"/>
<circle cx="262.8" cy="905.4" r="1.05" fill="#3a2040"/>
<circle cx="265.2" cy="884.7" r="1.05" fill="#3a2040"/>
<circle cx="274.0" cy="890.0" r="1.05" fill="#3a2040"/>
<circle cx="276.8" cy="905.4" r="1.05" fill="#3a2040"/>
<circle cx="282.2" cy="899.3" r="1.05" fill="#3a2040"/>
<circle cx="283.5" cy="879.7" r="1.05" fill="#3a2040"/>
<circle cx="284.8" cy="880.3" r="1.05" fill="#3a2040"/>
<circle cx="290.0" cy="896.5" r="1.05" fill="#3a2040"/>
<circle cx="291.5" cy="892.7" r="1.05" fill="#3a2040"/>
<circle cx="291.0" cy="913.2" r="1.05" fill="#3a2040"/>
<circle cx="300.3" cy="895.9" r="1.05" fill="#3a2040"/>
<circle cx="302.2" cy="895.9" r="1.05" fill="#3a2040"/>
<circle cx="302.2" cy="913.4" r="1.05" fill="#3a2040"/>
<circle cx="310.9" cy="858.3" r="1.05" fill="#3a2040"/>
<circle cx="316.5" cy="887.7" r="1.05" fill="#3a2040"/>
<circle cx="345.0" cy="878.2" r="1.05" fill="#3a2040"/>
<circle cx="351.5" cy="892.7" r="1.05" fill="#3a2040"/>
<circle cx="373.0" cy="899.3" r="1.05" fill="#3a2040"/>
<circle cx="407.5" cy="908.6" r="1.05" fill="#3a2040"/>
<text x="139.7" y="777.9" font-size="10.9" text-anchor="start" fill="#1e1e1e" font-family='"Liberation Sans", sans-serif' textLength="220.3" lengthAdjust="spacingAndGlyphs" stroke="#1e1e1e" stroke-width="0.15">Simulation: Prediction on Response Variable</text>
<rect x="176.80" y="982.4" width="0.6" height="1.6" fill="#555"/>
<text x="177.1" y="987.2" font-size="3.4" text-anchor="middle" fill="#777" font-family='"Liberation Sans", sans-serif' >0.35</text>
<rect x="234.60" y="982.4" width="0.6" height="1.6" fill="#555"/>
<text x="234.9" y="987.2" font-size="3.4" text-anchor="middle" fill="#777" font-family='"Liberation Sans", sans-serif' >0.40</text>
<rect x="292.40" y="982.4" width="0.6" height="1.6" fill="#555"/>
<text x="292.7" y="987.2" font-size="3.4" text-anchor="middle" fill="#777" font-family='"Liberation Sans", sans-serif' >0.45</text>
<rect x="350.10" y="982.4" width="0.6" height="1.6" fill="#555"/>
<text x="350.4" y="987.2" font-size="3.4" text-anchor="middle" fill="#777" font-family='"Liberation Sans", sans-serif' >0.50</text>
<rect x="407.90" y="982.4" width="0.6" height="1.6" fill="#555"/>
<text x="408.2" y="987.2" font-size="3.4" text-anchor="middle" fill="#777" font-family='"Liberation Sans", sans-serif' >0.55</text>
<rect x="137.50" y="787.50" width="1.6" height="0.6" fill="#555"/>
<text x="136.9" y="789.0" font-size="3.4" text-anchor="end" fill="#777" font-family='"Liberation Sans", sans-serif' >3</text>
<rect x="137.50" y="837.80" width="1.6" height="0.6" fill="#555"/>
<text x="136.9" y="839.3" font-size="3.4" text-anchor="end" fill="#777" font-family='"Liberation Sans", sans-serif' >2</text>
<rect x="137.50" y="888.20" width="1.6" height="0.6" fill="#555"/>
<text x="136.9" y="889.7" font-size="3.4" text-anchor="end" fill="#777" font-family='"Liberation Sans", sans-serif' >1</text>
<rect x="137.50" y="938.50" width="1.6" height="0.6" fill="#555"/>
<text x="136.9" y="940.0" font-size="3.4" text-anchor="end" fill="#777" font-family='"Liberation Sans", sans-serif' >0</text>
<text x="280.0" y="993.5" font-size="7.4" text-anchor="middle" fill="#1e1e1e" font-family='"Liberation Sans", sans-serif' textLength="63.0" lengthAdjust="spacingAndGlyphs" >Protected_Variable</text>
<text x="132.9" y="882.4" font-size="7.4" text-anchor="middle" fill="#1e1e1e" font-family='"Liberation Sans", sans-serif' transform="rotate(-90 132.9 882.4)">Y</text>
<rect x="308.8" y="939.7" width="71.9" height="26.5" fill="#fff"/>
<polyline points="311.0,947.3 316.4,947.3" fill="none" stroke="#111" stroke-width="0.7" stroke-opacity="1.0" stroke-linejoin="round"/>
<circle cx="313.7" cy="947.3" r="0.9" fill="#111"/>
<text x="319.2" y="949.3" font-size="5.6" text-anchor="start" fill="#1a1a1a" font-family='"Liberation Sans", sans-serif' textLength="30.2" lengthAdjust="spacingAndGlyphs" stroke="#1a1a1a" stroke-width="0.12">Observation</text>
<polyline points="311.0,953.8 316.4,953.8" fill="none" stroke="#4040e0" stroke-width="0.7" stroke-opacity="1.0" stroke-linejoin="round"/>
<circle cx="313.7" cy="953.8" r="0.9" fill="#4040e0"/>
<text x="319.2" y="955.8" font-size="5.6" text-anchor="start" fill="#1a1a1a" font-family='"Liberation Sans", sans-serif' textLength="48.9" lengthAdjust="spacingAndGlyphs" stroke="#1a1a1a" stroke-width="0.12">Prediction via proxy</text>
<polyline points="311.0,960.2 316.4,960.2" fill="none" stroke="#e05050" stroke-width="0.7" stroke-opacity="1.0" stroke-linejoin="round"/>
<circle cx="313.7" cy="960.2" r="0.9" fill="#e05050"/>
<text x="319.2" y="962.2" font-size="5.6" text-anchor="start" fill="#1a1a1a" font-family='"Liberation Sans", sans-serif' textLength="59.5" lengthAdjust="spacingAndGlyphs" stroke="#1a1a1a" stroke-width="0.12">Prediction without proxy</text>
<rect x="456.1" y="782.6" width="276.4" height="199.5" fill="#EBEBEB"/>
<rect x="499.20" y="782.6" width="0.6" height="199.5" fill="#F4F4F4"/>
<rect x="562.10" y="782.6" width="0.6" height="199.5" fill="#F4F4F4"/>
<rect x="625.00" y="782.6" width="0.6" height="199.5" fill="#F4F4F4"/>
<rect x="687.90" y="782.6" width="0.6" height="199.5" fill="#F4F4F4"/>
<rect x="456.1" y="813.90" width="276.4" height="0.6" fill="#F4F4F4"/>
<rect x="456.1" y="859.40" width="276.4" height="0.6" fill="#F4F4F4"/>
<rect x="456.1" y="904.80" width="276.4" height="0.6" fill="#F4F4F4"/>
<rect x="456.1" y="950.30" width="276.4" height="0.6" fill="#F4F4F4"/>
<rect x="467.55" y="782.6" width="0.9" height="199.5" fill="#FFFFFF"/>
<rect x="530.45" y="782.6" width="0.9" height="199.5" fill="#FFFFFF"/>
<rect x="593.35" y="782.6" width="0.9" height="199.5" fill="#FFFFFF"/>
<rect x="656.25" y="782.6" width="0.9" height="199.5" fill="#FFFFFF"/>
<rect x="719.15" y="782.6" width="0.9" height="199.5" fill="#FFFFFF"/>
<rect x="456.1" y="791.05" width="276.4" height="0.9" fill="#FFFFFF"/>
<rect x="456.1" y="836.55" width="276.4" height="0.9" fill="#FFFFFF"/>
<rect x="456.1" y="881.95" width="276.4" height="0.9" fill="#FFFFFF"/>
<rect x="456.1" y="927.45" width="276.4" height="0.9" fill="#FFFFFF"/>
<rect x="456.1" y="972.85" width="276.4" height="0.9" fill="#FFFFFF"/>
<circle cx="548.0" cy="791.6" r="1.15" fill="#6a5a6a"/>
<circle cx="584.1" cy="791.6" r="1.15" fill="#6a5a6a"/>
<circle cx="590.8" cy="791.6" r="1.15" fill="#6a5a6a"/>
<circle cx="593.5" cy="791.6" r="1.15" fill="#6a5a6a"/>
<circle cx="610.4" cy="791.6" r="1.15" fill="#6a5a6a"/>
<circle cx="614.7" cy="791.6" r="1.15" fill="#6a5a6a"/>
<circle cx="640.9" cy="791.6" r="1.15" fill="#6a5a6a"/>
<circle cx="645.4" cy="791.6" r="1.15" fill="#6a5a6a"/>
<circle cx="650.3" cy="791.6" r="1.15" fill="#6a5a6a"/>
<circle cx="663.8" cy="791.6" r="1.15" fill="#6a5a6a"/>
<circle cx="665.8" cy="791.6" r="1.15" fill="#6a5a6a"/>
<circle cx="682.6" cy="791.6" r="1.15" fill="#6a5a6a"/>
<circle cx="689.7" cy="791.6" r="1.15" fill="#6a5a6a"/>
<circle cx="691.5" cy="791.6" r="1.15" fill="#6a5a6a"/>
<circle cx="695.9" cy="791.6" r="1.15" fill="#6a5a6a"/>
<circle cx="701.5" cy="791.6" r="1.15" fill="#6a5a6a"/>
<circle cx="705.6" cy="791.6" r="1.15" fill="#6a5a6a"/>
<circle cx="709.4" cy="791.6" r="1.15" fill="#6a5a6a"/>
<circle cx="710.6" cy="791.6" r="1.15" fill="#6a5a6a"/>
<circle cx="717.4" cy="791.6" r="1.15" fill="#6a5a6a"/>
<circle cx="719.7" cy="791.6" r="1.15" fill="#6a5a6a"/>
<circle cx="590.8" cy="791.6" r="1.15" fill="#c0204a"/>
<circle cx="593.5" cy="791.6" r="1.15" fill="#c0204a"/>
<circle cx="663.8" cy="791.6" r="1.15" fill="#c0204a"/>
<circle cx="665.8" cy="791.6" r="1.15" fill="#c0204a"/>
<circle cx="689.7" cy="791.6" r="1.15" fill="#c0204a"/>
<circle cx="691.5" cy="791.6" r="1.15" fill="#c0204a"/>
<circle cx="701.5" cy="791.6" r="1.15" fill="#c0204a"/>
<circle cx="709.4" cy="791.6" r="1.15" fill="#c0204a"/>
<circle cx="717.4" cy="791.6" r="1.15" fill="#c0204a"/>
<circle cx="719.7" cy="791.6" r="1.15" fill="#c0204a"/>
<circle cx="467.6" cy="973.4" r="1.15" fill="#6a5a6a"/>
<circle cx="469.5" cy="973.4" r="1.15" fill="#6a5a6a"/>
<circle cx="471.5" cy="973.4" r="1.15" fill="#6a5a6a"/>
<circle cx="473.5" cy="973.4" r="1.15" fill="#6a5a6a"/>
<circle cx="478.6" cy="973.4" r="1.15" fill="#6a5a6a"/>
<circle cx="491.5" cy="973.4" r="1.15" fill="#6a5a6a"/>
<circle cx="495.5" cy="973.4" r="1.15" fill="#6a5a6a"/>
<circle cx="504.7" cy="973.4" r="1.15" fill="#6a5a6a"/>
<circle cx="535.3" cy="973.4" r="1.15" fill="#6a5a6a"/>
<circle cx="541.0" cy="973.4" r="1.15" fill="#6a5a6a"/>
<circle cx="548.0" cy="973.4" r="1.15" fill="#6a5a6a"/>
<circle cx="555.5" cy="973.4" r="1.15" fill="#6a5a6a"/>
<circle cx="584.7" cy="973.4" r="1.15" fill="#6a5a6a"/>
<circle cx="610.1" cy="973.4" r="1.15" fill="#6a5a6a"/>
<circle cx="640.8" cy="973.4" r="1.15" fill="#6a5a6a"/>
<circle cx="645.1" cy="973.4" r="1.15" fill="#6a5a6a"/>
<circle cx="666.2" cy="973.4" r="1.15" fill="#6a5a6a"/>
<circle cx="467.6" cy="973.4" r="1.15" fill="#c0204a"/>
<circle cx="469.5" cy="973.4" r="1.15" fill="#c0204a"/>
<circle cx="471.5" cy="973.4" r="1.15" fill="#c0204a"/>
<circle cx="473.5" cy="973.4" r="1.15" fill="#c0204a"/>
<text x="456.5" y="777.9" font-size="10.9" text-anchor="start" fill="#1e1e1e" font-family='"Liberation Sans", sans-serif' textLength="220.4" lengthAdjust="spacingAndGlyphs" stroke="#1e1e1e" stroke-width="0.15">Simulation: Prediction on Response Variable</text>
<rect x="467.70" y="982.1" width="0.6" height="1.6" fill="#555"/>
<text x="468.0" y="986.9" font-size="3.4" text-anchor="middle" fill="#777" font-family='"Liberation Sans", sans-serif' >0.00</text>
<rect x="530.60" y="982.1" width="0.6" height="1.6" fill="#555"/>
<text x="530.9" y="986.9" font-size="3.4" text-anchor="middle" fill="#777" font-family='"Liberation Sans", sans-serif' >0.25</text>
<rect x="593.50" y="982.1" width="0.6" height="1.6" fill="#555"/>
<text x="593.8" y="986.9" font-size="3.4" text-anchor="middle" fill="#777" font-family='"Liberation Sans", sans-serif' >0.50</text>
<rect x="656.40" y="982.1" width="0.6" height="1.6" fill="#555"/>
<text x="656.7" y="986.9" font-size="3.4" text-anchor="middle" fill="#777" font-family='"Liberation Sans", sans-serif' >0.75</text>
<rect x="719.30" y="982.1" width="0.6" height="1.6" fill="#555"/>
<text x="719.6" y="986.9" font-size="3.4" text-anchor="middle" fill="#777" font-family='"Liberation Sans", sans-serif' >1.00</text>
<rect x="454.50" y="791.20" width="1.6" height="0.6" fill="#555"/>
<text x="453.9" y="792.7" font-size="3.4" text-anchor="end" fill="#777" font-family='"Liberation Sans", sans-serif' >1.00</text>
<rect x="454.50" y="836.70" width="1.6" height="0.6" fill="#555"/>
<text x="453.9" y="838.2" font-size="3.4" text-anchor="end" fill="#777" font-family='"Liberation Sans", sans-serif' >0.75</text>
<rect x="454.50" y="882.10" width="1.6" height="0.6" fill="#555"/>
<text x="453.9" y="883.6" font-size="3.4" text-anchor="end" fill="#777" font-family='"Liberation Sans", sans-serif' >0.50</text>
<rect x="454.50" y="927.60" width="1.6" height="0.6" fill="#555"/>
<text x="453.9" y="929.1" font-size="3.4" text-anchor="end" fill="#777" font-family='"Liberation Sans", sans-serif' >0.25</text>
<rect x="454.50" y="973.00" width="1.6" height="0.6" fill="#555"/>
<text x="453.9" y="974.5" font-size="3.4" text-anchor="end" fill="#777" font-family='"Liberation Sans", sans-serif' >0.00</text>
<text x="594.2" y="993.8" font-size="7.4" text-anchor="middle" fill="#1e1e1e" font-family='"Liberation Sans", sans-serif' textLength="9.7" lengthAdjust="spacingAndGlyphs" >mu</text>
<text x="444.9" y="882.4" font-size="7.4" text-anchor="middle" fill="#1e1e1e" font-family='"Liberation Sans", sans-serif' transform="rotate(-90 444.9 882.4)">Y</text>
<rect x="621.4" y="939.7" width="72.6" height="25.3" fill="#fff"/>
<circle cx="626.5" cy="947.0" r="0.9" fill="#111"/>
<text x="632.0" y="949.0" font-size="5.6" text-anchor="start" fill="#1a1a1a" font-family='"Liberation Sans", sans-serif' textLength="30.2" lengthAdjust="spacingAndGlyphs" stroke="#1a1a1a" stroke-width="0.12">Observation</text>
<circle cx="626.5" cy="953.5" r="0.9" fill="#4040e0"/>
<text x="632.0" y="955.5" font-size="5.6" text-anchor="start" fill="#1a1a1a" font-family='"Liberation Sans", sans-serif' textLength="48.9" lengthAdjust="spacingAndGlyphs" stroke="#1a1a1a" stroke-width="0.12">Prediction via proxy</text>
<circle cx="626.5" cy="960.2" r="0.9" fill="#e05050"/>
<text x="632.0" y="962.2" font-size="5.6" text-anchor="start" fill="#1a1a1a" font-family='"Liberation Sans", sans-serif' textLength="59.5" lengthAdjust="spacingAndGlyphs" stroke="#1a1a1a" stroke-width="0.12">Prediction without proxy</text>
</svg>
</body></html>
